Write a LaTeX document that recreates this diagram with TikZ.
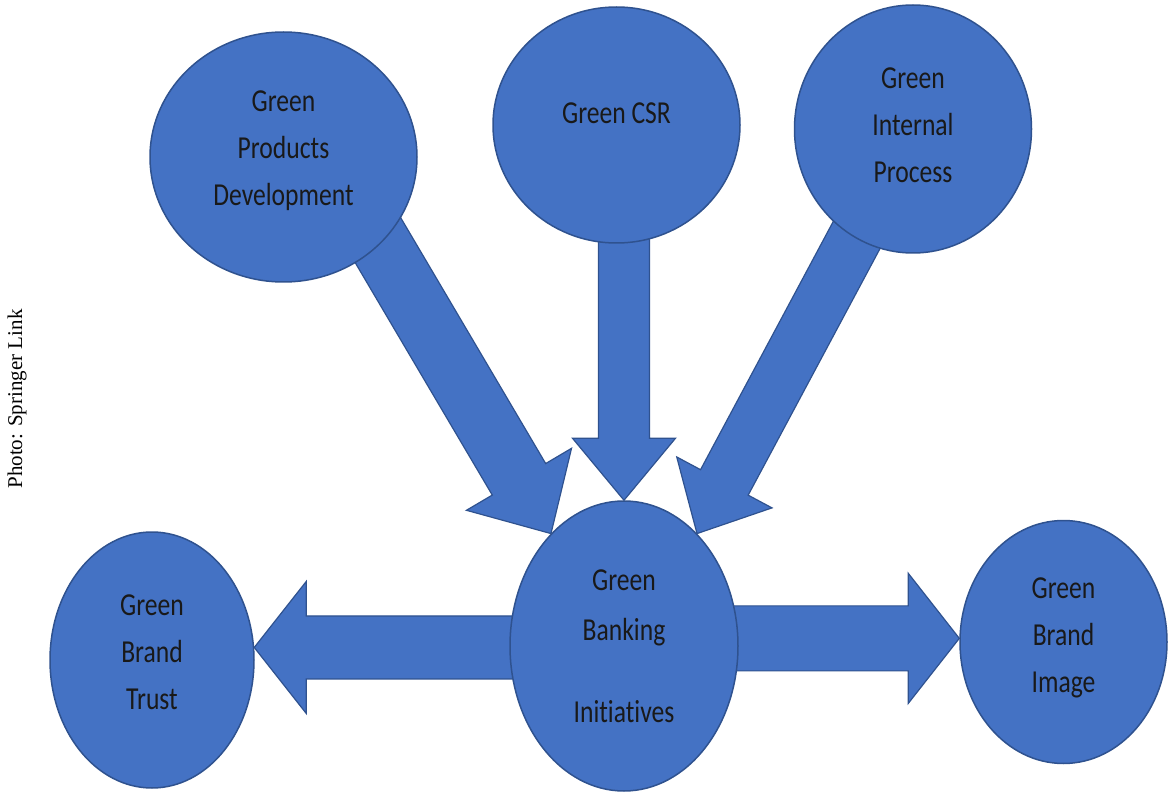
\documentclass[tikz,border=0pt]{standalone}
\usepackage{fontspec}
\setmainfont{Carlito}[FakeStretch=0.8, Ligatures=NoCommon]
\newfontfamily\creditfont{Liberation Serif}
\usetikzlibrary{calc,shapes.geometric}
\definecolor{gbFill}{HTML}{4472C4}
\definecolor{gbLine}{HTML}{2F528F}
\pgfdeclarelayer{back}
\pgfsetlayers{back,main}
% block arrow: tail, tip, shaft half width, head half width, head length
\newcommand{\blockarrow}[5]{%
  \coordinate (ba-a) at (#1);
  \coordinate (ba-b) at (#2);
  \coordinate (ba-t) at ($(ba-a)!-12pt!(ba-b)$);
  \coordinate (ba-h) at ($(ba-b)!#5!(ba-a)$);
  \filldraw[fatarrow] ($(ba-t)!#3!90:(ba-b)$) -- ($(ba-h)!#3!90:(ba-b)$)
    -- ($(ba-h)!#4!90:(ba-b)$) -- (ba-b) -- ($(ba-h)!#4!-90:(ba-b)$)
    -- ($(ba-h)!#3!-90:(ba-b)$) -- ($(ba-t)!#3!-90:(ba-b)$) -- cycle;
}

\begin{document}
\begin{tikzpicture}[x=0.5pt, y=-0.5pt,
    bubble/.style={ellipse, fill=gbFill, draw=gbLine, line width=0.75pt,
      inner sep=0pt, align=center, text=black!90,
      font=\fontsize{16}{23.5}\selectfont},
    fatarrow/.style={fill=gbFill, draw=gbLine, line width=0.6pt, line join=miter}]
  \useasboundingbox (0,0) rectangle (1169,797);
  % the six bubbles
  \node[bubble, minimum width=133.5pt, minimum height=125pt, text depth=9pt] (gpd) at (283.5,157) {Green\\Products\\Development};
  \node[bubble, minimum width=123.5pt, minimum height=118pt, text depth=12pt] (csr) at (616.5,125) {Green CSR};
  \node[bubble, minimum width=118.5pt, minimum height=124pt, text depth=4pt] (ip) at (913,129) {Green\\Internal\\Process};
  \node[bubble, minimum width=114pt, minimum height=145pt] (bank) at (624,646) {Green\\[1.5pt]Banking\\[17.5pt]Initiatives};
  \node[bubble, minimum width=102pt, minimum height=128pt, text depth=8pt] (trust) at (152,660) {Green\\Brand\\Trust};
  \node[bubble, minimum width=103.5pt, minimum height=121.5pt, text depth=7pt] (img) at (1063.5,642) {Green\\Brand\\Image};
  % side credit
  \node[rotate=90, font=\creditfont\fontsize{10.5}{12}\selectfont] (credit) at (17,399) {Photo: Springer Link};
  % block arrows behind the bubbles
  \begin{pgfonlayer}{back}
    \blockarrow{gpd.-42}{bank.123}{15.5pt}{30.5pt}{31.5pt}
    \blockarrow{bank.north |- csr.south}{bank.north}{12.75pt}{25.75pt}{31pt}
    \blockarrow{ip.-118}{bank.57}{13.5pt}{27pt}{29pt}
    \blockarrow{trust.7 -| bank.west}{trust.7}{15.75pt}{33pt}{26pt}
    \blockarrow{img.178 -| bank.east}{img.178}{16.25pt}{32.5pt}{25.5pt}
  \end{pgfonlayer}
\end{tikzpicture}
\end{document}
